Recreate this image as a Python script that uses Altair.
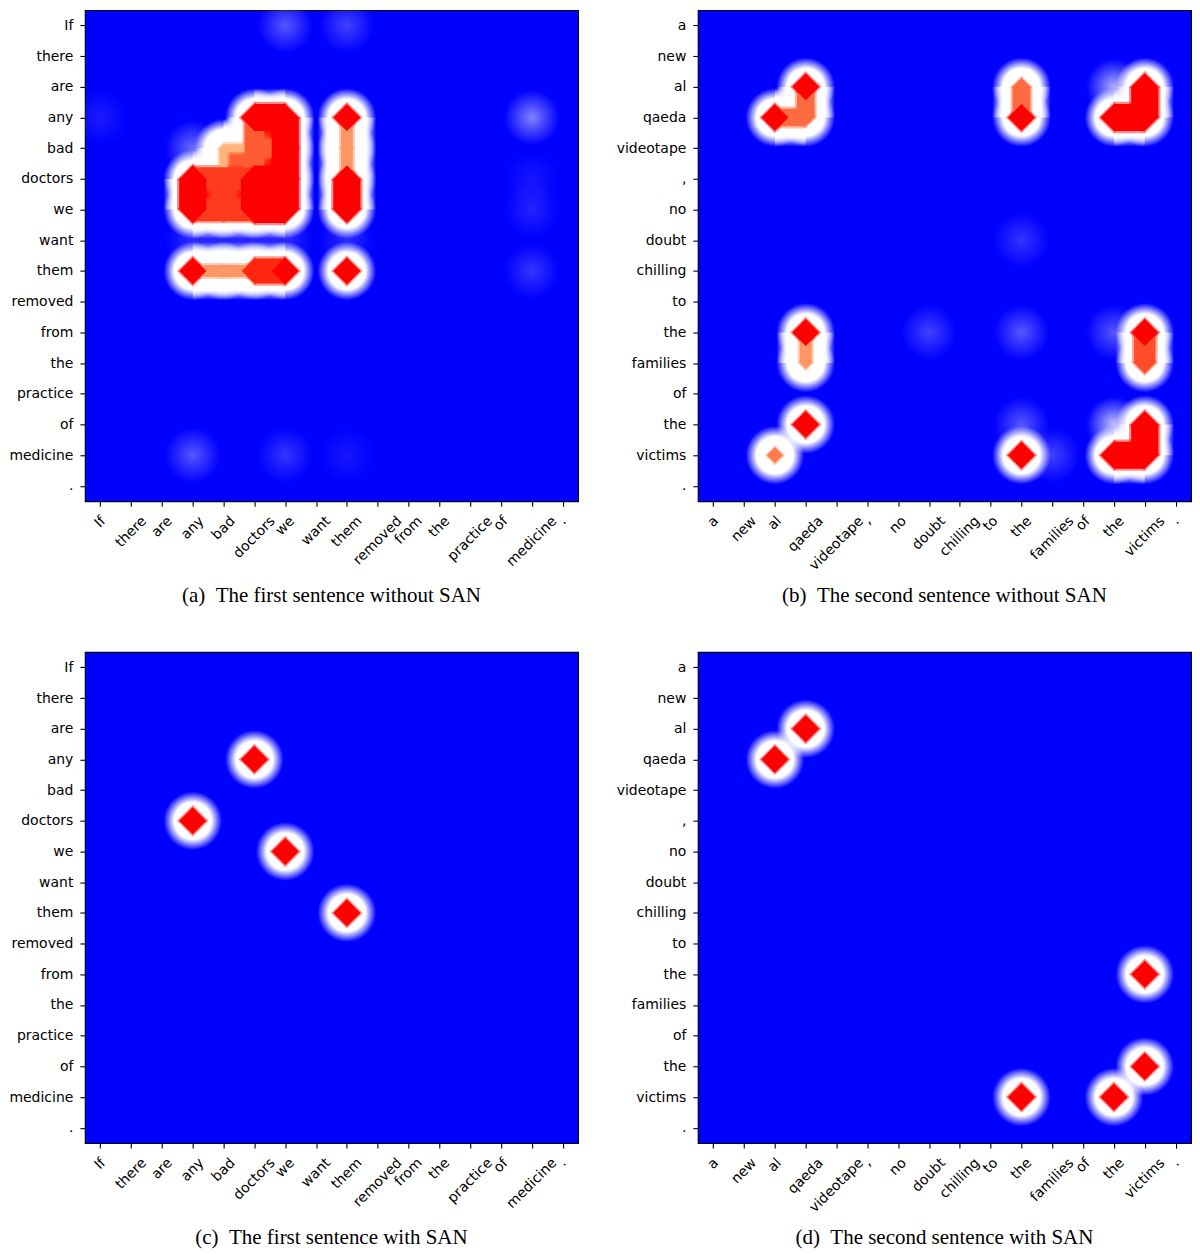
import json
import numpy as np
import pandas as pd
import altair as alt

# ---------------- data ----------------
tokens_first = ["If", "there", "are", "any", "bad", "doctors", "we", "want", "them",
                "removed", "from", "the", "practice", "of", "medicine", "."]
tokens_second = ["a", "new", "al", "qaeda", "videotape", ",", "no", "doubt", "chilling",
                 "to", "the", "families", "of", "the", "victims", "."]

captions = ["(a)\u00a0\u00a0The first sentence without SAN",
            "(b)\u00a0\u00a0The second sentence without SAN",
            "(c)\u00a0\u00a0The first sentence with SAN",
            "(d)\u00a0\u00a0The second sentence with SAN"]

# (a) first sentence without SAN  (row = y token, col = x token)
a_rows = [0, 0, 3, 3, 3, 3, 3, 4, 4, 4, 4, 4, 5, 5, 5, 5, 5, 5, 6, 6, 6, 6, 6, 6,
          7, 7, 7, 7, 7, 8, 8, 8, 8, 8, 8, 14, 14, 14]
a_cols = [6, 8, 0, 5, 6, 8, 14, 3, 4, 5, 6, 8, 3, 4, 5, 6, 8, 14, 3, 4, 5, 6, 8, 14,
          3, 4, 5, 6, 8, 3, 4, 5, 6, 8, 14, 3, 6, 8]
a_vals = [0.2, 0.15, 0.06, 1.0, 1.0, 1.0, 0.3, 0.25, 0.5, 0.8, 1.0, 0.6,
          1.0, 0.9, 1.0, 1.0, 1.0, 0.05, 1.0, 0.9, 1.0, 1.0, 1.0, 0.08,
          0.1, 0.1, 0.1, 0.1, 0.1, 1.0, 0.6, 0.95, 1.0, 1.0, 0.12, 0.2, 0.12, 0.05]

# (b) second sentence without SAN
b_rows = [2, 2, 2, 2, 3, 3, 3, 3, 3, 7, 10, 10, 10, 10, 10, 11, 11,
          13, 13, 13, 13, 14, 14, 14, 14, 14]
b_cols = [3, 10, 13, 14, 2, 3, 10, 13, 14, 10, 3, 7, 10, 13, 14, 3, 14,
          3, 10, 13, 14, 2, 10, 11, 13, 14]
b_vals = [1.0, 0.75, 0.4, 1.0, 1.0, 0.75, 1.0, 1.0, 1.0, 0.12, 1.0, 0.15, 0.2, 0.2, 1.0, 0.6, 0.85,
          1.0, 0.2, 0.45, 1.0, 0.7, 1.0, 0.15, 1.0, 1.0]

# (c) first sentence with SAN
c_rows = [3, 5, 6, 8]
c_cols = [5, 3, 6, 8]
c_vals = [1.0, 1.0, 1.0, 1.0]

# (d) second sentence with SAN
d_rows = [2, 3, 10, 13, 14, 14]
d_cols = [3, 2, 14, 14, 10, 13]
d_vals = [1.0, 1.0, 1.0, 1.0, 1.0, 1.0]

# ---------------- layout constants ----------------
W, H = 494, 492
N = 16
PPU_X = W / N
PPU_Y = H / N
TICK = 5
PAD = 7
HI = 0.5
R_MAX = 0.44
SOFT = 0.07
HALO_R = 1.0
CAPTION_GAP = 95

# DejaVu Sans advance widths (em) used to centre rotated tick labels like matplotlib
DV = {'a': .613, 'b': .635, 'c': .550, 'd': .635, 'e': .615, 'f': .352, 'g': .635, 'h': .634,
      'i': .278, 'l': .278, 'm': .974, 'n': .634, 'o': .612, 'p': .635, 'q': .635, 'r': .411,
      's': .521, 't': .392, 'u': .634, 'v': .592, 'w': .818, 'y': .592, 'I': .295, ',': .318,
      '.': .318}


def core_r(v):
    return R_MAX * (0.3 + 0.7 * (v - 0.5) / 0.5)


def matrix(rows, cols, vals):
    m = np.zeros((N, N))
    for r, c, v in zip(rows, cols, vals):
        m[r, c] = v
    return m


def frames(m):
    cells = []
    for r in range(N):
        for c in range(N):
            v = m[r, c]
            if v > 0:
                cells.append(dict(r=r, c=c, v=v, gx1=c - HALO_R, gx2=c + HALO_R,
                                  gy1=r - HALO_R, gy2=r + HALO_R, fop=min(1.0, 1.7 * v)))
    cells = pd.DataFrame(cells)
    halo = cells[cells.v >= HI]
    faint = cells[cells.v < HI]
    cores = cells[cells.v >= HI].copy()
    cores["size"] = [(2 * core_r(v) * PPU_X) ** 2 for v in cores.v]
    cores["ssize"] = [(2 * (core_r(v) + SOFT) * PPU_X) ** 2 for v in cores.v]
    cores = cores.sort_values("v")
    hb, vb, blocks = [], [], []
    for r in range(N):
        for c in range(N):
            if m[r, c] < HI:
                continue
            if c + 1 < N and m[r, c + 1] >= HI:
                v = min(m[r, c], m[r, c + 1])
                t = core_r(v)
                hb.append(dict(x1=c, x2=c + 1, y1=r - t, y2=r + t, v=v,
                               sx1=c, sx2=c + 1, sy1=r - t - SOFT, sy2=r + t + SOFT,
                               hx1=c, hx2=c + 1, hy1=r - HALO_R * 0.95, hy2=r + HALO_R * 0.95))
            if r + 1 < N and m[r + 1, c] >= HI:
                v = min(m[r, c], m[r + 1, c])
                t = core_r(v)
                vb.append(dict(x1=c - t, x2=c + t, y1=r, y2=r + 1, v=v,
                               sx1=c - t - SOFT, sx2=c + t + SOFT, sy1=r, sy2=r + 1,
                               hx1=c - HALO_R * 0.95, hx2=c + HALO_R * 0.95, hy1=r, hy2=r + 1))
            if r + 1 < N and c + 1 < N and min(m[r, c + 1], m[r + 1, c], m[r + 1, c + 1]) >= HI:
                v = float(np.mean([m[r, c], m[r, c + 1], m[r + 1, c], m[r + 1, c + 1]]))
                blocks.append(dict(x1=c, x2=c + 1, y1=r, y2=r + 1, v=v))
    bcols = ["x1", "x2", "y1", "y2", "v", "sx1", "sx2", "sy1", "sy2", "hx1", "hx2", "hy1", "hy2"]
    hb = pd.DataFrame(hb, columns=bcols).sort_values("v")
    vb = pd.DataFrame(vb, columns=bcols).sort_values("v")
    bridges = pd.concat([hb, vb]).sort_values("v")
    blocks = pd.DataFrame(blocks, columns=["x1", "x2", "y1", "y2", "v"]).sort_values("v")
    return halo, faint, cores, hb, vb, bridges, blocks


WHITE0 = "rgba(255,255,255,0)"
halo_fill = {"gradient": "radial", "x1": 0.5, "y1": 0.5, "r1": 0, "x2": 0.5, "y2": 0.5, "r2": 0.5,
             "stops": [{"offset": 0, "color": "#ffffff"},
                       {"offset": 0.6, "color": "#ffffff"},
                       {"offset": 0.95, "color": WHITE0},
                       {"offset": 1, "color": WHITE0}]}
band_stops = [{"offset": 0, "color": WHITE0},
              {"offset": 0.185, "color": "#ffffff"},
              {"offset": 0.815, "color": "#ffffff"},
              {"offset": 1, "color": WHITE0}]
hband_fill = {"gradient": "linear", "x1": 0, "y1": 0, "x2": 0, "y2": 1, "stops": band_stops}
vband_fill = {"gradient": "linear", "x1": 0, "y1": 0, "x2": 1, "y2": 0, "stops": band_stops}
faint_fill = {"gradient": "radial", "x1": 0.5, "y1": 0.5, "r1": 0, "x2": 0.5, "y2": 0.5, "r2": 0.5,
              "stops": [{"offset": 0, "color": "#ffffff"},
                        {"offset": 0.9, "color": WHITE0},
                        {"offset": 1, "color": WHITE0}]}

cscale = alt.Scale(domain=[0, 0.5, 1], range=["#0000ff", "#ffffff", "#ff0000"])


def panel(tokens, rows, cols, vals, caption):
    m = matrix(rows, cols, vals)
    halo, faint, cores, hb, vb, bridges, blocks = frames(m)
    xs = alt.Scale(domain=[-0.5, N - 0.5], nice=False, zero=False)
    ys = alt.Scale(domain=[-0.5, N - 0.5], nice=False, zero=False, reverse=True)
    xaxis = alt.Axis(values=list(range(N)), labels=False, ticks=True, tickSize=TICK,
                     tickWidth=1.1, tickColor="black", domain=False, grid=False, title=None)
    yaxis = alt.Axis(values=list(range(N)), labelExpr=json.dumps(tokens) + "[datum.value]",
                     ticks=True, tickSize=TICK, tickWidth=1.1, tickColor="black",
                     domain=False, grid=False, title=None, labelPadding=PAD,
                     labelFont="DejaVu Sans", labelFontSize=14, labelColor="black")

    def X(f):
        return alt.X(f, type="quantitative", scale=xs, axis=xaxis)

    def Y(f):
        return alt.Y(f, type="quantitative", scale=ys, axis=yaxis)

    col = alt.Color("v:Q", scale=cscale, legend=None)
    layers = []
    if len(faint):
        layers.append(alt.Chart(faint).mark_rect(fill=faint_fill, clip=True).encode(
            x=X("gx1"), x2="gx2", y=Y("gy1"), y2="gy2",
            opacity=alt.Opacity("fop:Q", scale=None)))
    layers.append(alt.Chart(halo).mark_rect(fill=halo_fill, clip=True).encode(
        x=X("gx1"), x2="gx2", y=Y("gy1"), y2="gy2"))
    if len(hb):
        layers.append(alt.Chart(hb).mark_rect(fill=hband_fill, clip=True).encode(
            x=X("hx1"), x2="hx2", y=Y("hy1"), y2="hy2"))
    if len(vb):
        layers.append(alt.Chart(vb).mark_rect(fill=vband_fill, clip=True).encode(
            x=X("hx1"), x2="hx2", y=Y("hy1"), y2="hy2"))
    if len(blocks):
        layers.append(alt.Chart(blocks).mark_rect(clip=True).encode(
            x=X("x1"), x2="x2", y=Y("y1"), y2="y2", color=col))
    if len(bridges):
        layers.append(alt.Chart(bridges).mark_rect(clip=True, opacity=0.45).encode(
            x=X("sx1"), x2="sx2", y=Y("sy1"), y2="sy2", color=col))
    layers.append(alt.Chart(cores).mark_point(shape="diamond", filled=True, opacity=0.45,
                                              strokeWidth=0, clip=True).encode(
        x=X("c"), y=Y("r"), color=col, size=alt.Size("ssize:Q", scale=None)))
    if len(bridges):
        layers.append(alt.Chart(bridges).mark_rect(clip=True).encode(
            x=X("x1"), x2="x2", y=Y("y1"), y2="y2", color=col))
    layers.append(alt.Chart(cores).mark_point(shape="diamond", filled=True, opacity=1,
                                              strokeWidth=0, clip=True).encode(
        x=X("c"), y=Y("r"), color=col, size=alt.Size("size:Q", scale=None)))
    # rotated x tick labels, centred on their ticks as matplotlib does
    lab = pd.DataFrame({"tok": tokens, "idx": list(range(N))})
    lab["pos"] = [i + 0.354 * 14 * sum(DV.get(ch, 0.6) for ch in t) / PPU_X
                  for i, t in zip(lab.idx, lab.tok)]
    layers.append(alt.Chart(lab).mark_text(angle=315, align="right", baseline="middle",
                                           font="DejaVu Sans", fontSize=14, color="black").encode(
        x=X("pos"), y=alt.value(H + TICK + PAD + 5.8), text="tok:N"))
    # sub-figure caption
    cap = pd.DataFrame({"cap": [caption]})
    layers.append(alt.Chart(cap).mark_text(align="center", baseline="middle",
                                           font="Liberation Serif", fontSize=21,
                                           color="black").encode(
        x=alt.value(W / 2), y=alt.value(H + CAPTION_GAP), text="cap:N"))
    return alt.layer(*layers).properties(width=W, height=H)


pa = panel(tokens_first, a_rows, a_cols, a_vals, captions[0])
pb = panel(tokens_second, b_rows, b_cols, b_vals, captions[1])
pc = panel(tokens_first, c_rows, c_cols, c_vals, captions[2])
pd_ = panel(tokens_second, d_rows, d_cols, d_vals, captions[3])

chart = alt.vconcat(
    alt.hconcat(pa, pb, spacing=36),
    alt.hconcat(pc, pd_, spacing=36),
    spacing=44,
).properties(padding=0, background="white").configure_view(
    fill="#0000ff", stroke="black", strokeWidth=1.1
)

chart.save("out.html", embed_options={"renderer": "svg", "actions": False})
